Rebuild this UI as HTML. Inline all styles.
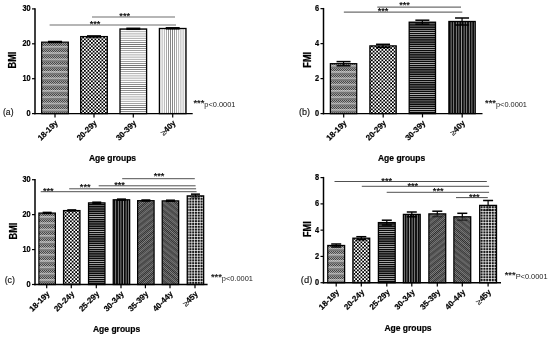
<!DOCTYPE html>
<html><head><meta charset="utf-8"><title>Figure</title>
<style>
html,body{margin:0;padding:0;background:#fff;}
svg{display:block;font-family:"Liberation Sans", Arial, Helvetica, sans-serif;}
</style></head>
<body>
<svg width="550" height="339" viewBox="0 0 550 339">
<rect width="550" height="339" fill="#fff"/>

<defs>
  <pattern id="p1" width="2" height="2" patternUnits="userSpaceOnUse">
    <rect width="2" height="2" fill="#a0a0a0"/>
    <rect x="0" y="0" width="1" height="1" fill="#464646"/>
    <rect x="1" y="1" width="1" height="1" fill="#464646"/>
  </pattern>
  <pattern id="p1b" width="4" height="6.3" patternUnits="userSpaceOnUse">
    <rect x="0" y="2.2" width="4" height="1.1" fill="#e4e4e4"/>
    <rect x="0" y="3.3" width="4" height="2.0" fill="#787878" fill-opacity="0.85"/>
  </pattern>
  <pattern id="p2" width="3.5" height="3.5" patternUnits="userSpaceOnUse">
    <rect width="3.5" height="3.5" fill="#fff"/>
    <rect x="0" y="0" width="1.75" height="1.75" fill="#000"/>
    <rect x="1.75" y="1.75" width="1.75" height="1.75" fill="#000"/>
  </pattern>
  <pattern id="p3l" width="4" height="2.1" patternUnits="userSpaceOnUse">
    <rect width="4" height="2.1" fill="#fff"/>
    <rect x="0" y="0" width="4" height="0.6" fill="#555"/>
  </pattern>
  <pattern id="p4l" width="2.1" height="4" patternUnits="userSpaceOnUse">
    <rect width="2.1" height="4" fill="#fff"/>
    <rect x="0" y="0" width="0.6" height="4" fill="#666"/>
  </pattern>
  <pattern id="p3d" width="4" height="2.14" patternUnits="userSpaceOnUse">
    <rect width="4" height="2.14" fill="#0a0a0a"/>
    <rect x="0" y="0" width="4" height="0.65" fill="#c4c4c4"/>
  </pattern>
  <pattern id="p4d" width="2.6" height="4" patternUnits="userSpaceOnUse">
    <rect width="2.6" height="4" fill="#0a0a0a"/>
    <rect x="0.9" y="0" width="0.75" height="4" fill="#a8a8a8"/>
  </pattern>
  <pattern id="p5" width="4.6" height="4.6" patternUnits="userSpaceOnUse" patternTransform="rotate(-38)">
    <rect width="4.6" height="4.6" fill="#626262"/>
    <rect x="0" y="0" width="4.6" height="2.4" fill="#3c3c3c"/>
  </pattern>
  <pattern id="p5b" width="1.45" height="1.45" patternUnits="userSpaceOnUse" patternTransform="rotate(-45)">
    <rect x="0" y="0" width="1.45" height="0.5" fill="#e0e0e0" fill-opacity="0.42"/>
    <rect x="0" y="0.7" width="1.45" height="0.6" fill="#000" fill-opacity="0.35"/>
  </pattern>
  <pattern id="p6" width="4.6" height="4.6" patternUnits="userSpaceOnUse" patternTransform="rotate(38)">
    <rect width="4.6" height="4.6" fill="#626262"/>
    <rect x="0" y="0" width="4.6" height="2.4" fill="#3c3c3c"/>
  </pattern>
  <pattern id="p6b" width="1.45" height="1.45" patternUnits="userSpaceOnUse" patternTransform="rotate(45)">
    <rect x="0" y="0" width="1.45" height="0.5" fill="#e0e0e0" fill-opacity="0.42"/>
    <rect x="0" y="0.7" width="1.45" height="0.6" fill="#000" fill-opacity="0.35"/>
  </pattern>
  <pattern id="p7" width="2.8" height="2.8" patternUnits="userSpaceOnUse">
    <rect width="2.8" height="2.8" fill="#111"/>
    <rect x="0.9" y="0" width="0.85" height="2.8" fill="#d8d8d8"/>
    <rect x="0" y="0.9" width="2.8" height="0.85" fill="#d8d8d8"/>
    <rect x="0.9" y="0.9" width="0.85" height="0.85" fill="#fff"/>
  </pattern>
</defs>

<rect x="41.70" y="42.20" width="26.60" height="71.40" fill="url(#p1)" stroke="#000" stroke-width="1.3"/>
<rect x="42.30" y="42.80" width="25.40" height="70.20" fill="url(#p1b)"/>
<line x1="48.00" y1="42.00" x2="62.00" y2="42.00" stroke="#000" stroke-width="2.5" />
<rect x="80.70" y="36.60" width="26.60" height="77.00" fill="url(#p2)" stroke="#000" stroke-width="1.3"/>
<line x1="87.00" y1="36.40" x2="101.00" y2="36.40" stroke="#000" stroke-width="2.5" />
<rect x="120.00" y="29.00" width="26.60" height="84.60" fill="url(#p3l)" stroke="#000" stroke-width="1.3"/>
<line x1="126.30" y1="28.80" x2="140.30" y2="28.80" stroke="#000" stroke-width="2.5" />
<rect x="159.40" y="28.50" width="26.60" height="85.10" fill="url(#p4l)" stroke="#000" stroke-width="1.3"/>
<line x1="165.70" y1="28.30" x2="179.70" y2="28.30" stroke="#000" stroke-width="2.5" />
<line x1="35.00" y1="8.20" x2="35.00" y2="114.30" stroke="#000" stroke-width="1.5" />
<line x1="34.30" y1="113.60" x2="192.70" y2="113.60" stroke="#000" stroke-width="1.4" />
<line x1="32.00" y1="113.60" x2="35.00" y2="113.60" stroke="#000" stroke-width="1.2" />
<text x="0" y="0" transform="translate(30.60 116.00) scale(0.9 1)" font-size="8.2" font-weight="bold" text-anchor="end" fill="#000"  stroke="#000" stroke-width="0.2">0</text>
<line x1="32.00" y1="78.70" x2="35.00" y2="78.70" stroke="#000" stroke-width="1.2" />
<text x="0" y="0" transform="translate(30.60 81.00) scale(0.9 1)" font-size="8.2" font-weight="bold" text-anchor="end" fill="#000"  stroke="#000" stroke-width="0.2">10</text>
<line x1="32.00" y1="43.80" x2="35.00" y2="43.80" stroke="#000" stroke-width="1.2" />
<text x="0" y="0" transform="translate(30.60 46.00) scale(0.9 1)" font-size="8.2" font-weight="bold" text-anchor="end" fill="#000"  stroke="#000" stroke-width="0.2">20</text>
<line x1="32.00" y1="8.90" x2="35.00" y2="8.90" stroke="#000" stroke-width="1.2" />
<text x="0" y="0" transform="translate(30.60 11.00) scale(0.9 1)" font-size="8.2" font-weight="bold" text-anchor="end" fill="#000"  stroke="#000" stroke-width="0.2">30</text>
<line x1="55.00" y1="113.60" x2="55.00" y2="117.40" stroke="#000" stroke-width="1.2" />
<text x="0" y="0" transform="translate(58.50 123.50) rotate(-45)" font-size="8" font-weight="bold" text-anchor="end" fill="#000"  stroke="#000" stroke-width="0.2">18-19y</text>
<line x1="94.00" y1="113.60" x2="94.00" y2="117.40" stroke="#000" stroke-width="1.2" />
<text x="0" y="0" transform="translate(97.50 123.50) rotate(-45)" font-size="8" font-weight="bold" text-anchor="end" fill="#000"  stroke="#000" stroke-width="0.2">20-29y</text>
<line x1="133.30" y1="113.60" x2="133.30" y2="117.40" stroke="#000" stroke-width="1.2" />
<text x="0" y="0" transform="translate(136.80 123.50) rotate(-45)" font-size="8" font-weight="bold" text-anchor="end" fill="#000"  stroke="#000" stroke-width="0.2">30-39y</text>
<line x1="172.70" y1="113.60" x2="172.70" y2="117.40" stroke="#000" stroke-width="1.2" />
<text x="0" y="0" transform="translate(176.20 123.50) rotate(-45)" font-size="8" font-weight="bold" text-anchor="end" fill="#000"  stroke="#000" stroke-width="0.2"><tspan font-weight="normal" fill="#444">≥</tspan>40y</text>
<text x="0" y="0" transform="translate(16.20 60.00) rotate(-90) scale(0.9 1)" font-size="10.2" font-weight="bold" text-anchor="middle" fill="#000"  stroke="#000" stroke-width="0.2">BMI</text>
<text x="112.50" y="160.80" font-size="8.5" font-weight="bold" text-anchor="middle" fill="#000"  stroke="#000" stroke-width="0.2">Age groups</text>
<text x="3.00" y="115.20" font-size="8.6" font-weight="normal" text-anchor="start" fill="#111" stroke="#111" stroke-width="0.15">(a)</text>
<text x="193.40" y="107.00" font-size="7.4" font-weight="normal" text-anchor="start" fill="#222" ><tspan font-weight="bold" font-size="9.4" dy="-1">***</tspan><tspan dy="1">p&lt;0.0001</tspan></text>
<line x1="49.60" y1="25.00" x2="176.00" y2="25.00" stroke="#6e6e6e" stroke-width="1.2" />
<text x="95.00" y="26.60" font-size="9.2" font-weight="bold" text-anchor="middle" fill="#111" stroke="none">***</text>
<line x1="92.00" y1="17.00" x2="175.00" y2="17.00" stroke="#6e6e6e" stroke-width="1.2" />
<text x="124.70" y="18.60" font-size="9.2" font-weight="bold" text-anchor="middle" fill="#111" stroke="none">***</text>
<rect x="330.40" y="63.70" width="26.30" height="49.90" fill="url(#p1)" stroke="#000" stroke-width="1.3"/>
<rect x="331.00" y="64.30" width="25.10" height="48.70" fill="url(#p1b)"/>
<line x1="343.55" y1="61.60" x2="343.55" y2="63.70" stroke="#000" stroke-width="1.2" />
<line x1="343.55" y1="63.70" x2="343.55" y2="65.80" stroke="#000" stroke-width="1.2" />
<line x1="336.55" y1="61.60" x2="350.55" y2="61.60" stroke="#000" stroke-width="1.5" />
<line x1="336.55" y1="65.80" x2="350.55" y2="65.80" stroke="#000" stroke-width="1.5" />
<rect x="369.90" y="45.90" width="26.30" height="67.70" fill="url(#p2)" stroke="#000" stroke-width="1.3"/>
<line x1="383.05" y1="44.30" x2="383.05" y2="45.90" stroke="#000" stroke-width="1.2" />
<line x1="383.05" y1="45.90" x2="383.05" y2="47.50" stroke="#000" stroke-width="1.2" />
<line x1="376.05" y1="44.30" x2="390.05" y2="44.30" stroke="#000" stroke-width="1.5" />
<line x1="376.05" y1="47.50" x2="390.05" y2="47.50" stroke="#000" stroke-width="1.5" />
<rect x="409.20" y="22.20" width="26.30" height="91.40" fill="url(#p3d)" stroke="#000" stroke-width="1.3"/>
<line x1="422.35" y1="20.20" x2="422.35" y2="22.20" stroke="#000" stroke-width="1.2" />
<line x1="422.35" y1="22.20" x2="422.35" y2="24.20" stroke="#000" stroke-width="1.2" />
<line x1="415.35" y1="20.20" x2="429.35" y2="20.20" stroke="#000" stroke-width="1.5" />
<line x1="415.35" y1="24.20" x2="429.35" y2="24.20" stroke="#000" stroke-width="1.5" />
<rect x="448.90" y="21.50" width="26.30" height="92.10" fill="url(#p4d)" stroke="#000" stroke-width="1.3"/>
<line x1="462.05" y1="18.00" x2="462.05" y2="21.50" stroke="#000" stroke-width="1.2" />
<line x1="462.05" y1="21.50" x2="462.05" y2="25.00" stroke="#000" stroke-width="1.2" />
<line x1="455.05" y1="18.00" x2="469.05" y2="18.00" stroke="#000" stroke-width="1.5" />
<line x1="455.05" y1="25.00" x2="469.05" y2="25.00" stroke="#000" stroke-width="1.5" />
<line x1="323.50" y1="7.94" x2="323.50" y2="114.30" stroke="#000" stroke-width="1.5" />
<line x1="322.80" y1="113.60" x2="482.50" y2="113.60" stroke="#000" stroke-width="1.4" />
<line x1="320.50" y1="113.60" x2="323.50" y2="113.60" stroke="#000" stroke-width="1.2" />
<text x="0" y="0" transform="translate(319.10 116.00) scale(0.9 1)" font-size="8.2" font-weight="bold" text-anchor="end" fill="#000"  stroke="#000" stroke-width="0.2">0</text>
<line x1="320.50" y1="78.61" x2="323.50" y2="78.61" stroke="#000" stroke-width="1.2" />
<text x="0" y="0" transform="translate(319.10 81.00) scale(0.9 1)" font-size="8.2" font-weight="bold" text-anchor="end" fill="#000"  stroke="#000" stroke-width="0.2">2</text>
<line x1="320.50" y1="43.63" x2="323.50" y2="43.63" stroke="#000" stroke-width="1.2" />
<text x="0" y="0" transform="translate(319.10 46.00) scale(0.9 1)" font-size="8.2" font-weight="bold" text-anchor="end" fill="#000"  stroke="#000" stroke-width="0.2">4</text>
<line x1="320.50" y1="8.64" x2="323.50" y2="8.64" stroke="#000" stroke-width="1.2" />
<text x="0" y="0" transform="translate(319.10 11.00) scale(0.9 1)" font-size="8.2" font-weight="bold" text-anchor="end" fill="#000"  stroke="#000" stroke-width="0.2">6</text>
<line x1="343.70" y1="113.60" x2="343.70" y2="117.40" stroke="#000" stroke-width="1.2" />
<text x="0" y="0" transform="translate(347.20 123.50) rotate(-45)" font-size="8" font-weight="bold" text-anchor="end" fill="#000"  stroke="#000" stroke-width="0.2">18-19y</text>
<line x1="383.20" y1="113.60" x2="383.20" y2="117.40" stroke="#000" stroke-width="1.2" />
<text x="0" y="0" transform="translate(386.70 123.50) rotate(-45)" font-size="8" font-weight="bold" text-anchor="end" fill="#000"  stroke="#000" stroke-width="0.2">20-29y</text>
<line x1="422.50" y1="113.60" x2="422.50" y2="117.40" stroke="#000" stroke-width="1.2" />
<text x="0" y="0" transform="translate(426.00 123.50) rotate(-45)" font-size="8" font-weight="bold" text-anchor="end" fill="#000"  stroke="#000" stroke-width="0.2">30-39y</text>
<line x1="462.20" y1="113.60" x2="462.20" y2="117.40" stroke="#000" stroke-width="1.2" />
<text x="0" y="0" transform="translate(465.70 123.50) rotate(-45)" font-size="8" font-weight="bold" text-anchor="end" fill="#000"  stroke="#000" stroke-width="0.2"><tspan font-weight="normal" fill="#444">≥</tspan>40y</text>
<text x="0" y="0" transform="translate(310.50 59.80) rotate(-90) scale(0.9 1)" font-size="10.2" font-weight="bold" text-anchor="middle" fill="#000"  stroke="#000" stroke-width="0.2">FMI</text>
<text x="401.60" y="160.80" font-size="8.5" font-weight="bold" text-anchor="middle" fill="#000"  stroke="#000" stroke-width="0.2">Age groups</text>
<text x="299.00" y="115.20" font-size="9.0" font-weight="normal" text-anchor="start" fill="#111" stroke="#111" stroke-width="0.15">(b)</text>
<text x="485.00" y="107.00" font-size="7.4" font-weight="normal" text-anchor="start" fill="#222" ><tspan font-weight="bold" font-size="9.4" dy="-1">***</tspan><tspan dy="1">p&lt;0.0001</tspan></text>
<line x1="343.85" y1="12.10" x2="462.30" y2="12.10" stroke="#6e6e6e" stroke-width="1.2" />
<text x="383.00" y="14.30" font-size="9.2" font-weight="bold" text-anchor="middle" fill="#111" stroke="none">***</text>
<line x1="377.30" y1="7.20" x2="461.00" y2="7.20" stroke="#6e6e6e" stroke-width="1.2" />
<text x="404.50" y="8.10" font-size="9.2" font-weight="bold" text-anchor="middle" fill="#111" stroke="none">***</text>
<rect x="38.95" y="213.10" width="16.40" height="71.40" fill="url(#p1)" stroke="#000" stroke-width="1.3"/>
<rect x="39.55" y="213.70" width="15.20" height="70.20" fill="url(#p1b)"/>
<line x1="42.65" y1="212.90" x2="51.65" y2="212.90" stroke="#000" stroke-width="2.5" />
<rect x="63.55" y="210.60" width="16.40" height="73.90" fill="url(#p2)" stroke="#000" stroke-width="1.3"/>
<line x1="67.25" y1="210.40" x2="76.25" y2="210.40" stroke="#000" stroke-width="2.5" />
<rect x="88.55" y="202.90" width="16.40" height="81.60" fill="url(#p3d)" stroke="#000" stroke-width="1.3"/>
<line x1="92.25" y1="202.70" x2="101.25" y2="202.70" stroke="#000" stroke-width="2.5" />
<rect x="113.25" y="199.80" width="16.40" height="84.70" fill="url(#p4d)" stroke="#000" stroke-width="1.3"/>
<line x1="116.95" y1="199.60" x2="125.95" y2="199.60" stroke="#000" stroke-width="2.5" />
<rect x="137.65" y="200.70" width="16.40" height="83.80" fill="url(#p5)" stroke="#000" stroke-width="1.3"/>
<rect x="138.25" y="201.30" width="15.20" height="82.60" fill="url(#p5b)"/>
<line x1="141.35" y1="200.50" x2="150.35" y2="200.50" stroke="#000" stroke-width="2.5" />
<rect x="162.25" y="200.90" width="16.40" height="83.60" fill="url(#p6)" stroke="#000" stroke-width="1.3"/>
<rect x="162.85" y="201.50" width="15.20" height="82.40" fill="url(#p6b)"/>
<line x1="165.95" y1="200.70" x2="174.95" y2="200.70" stroke="#000" stroke-width="2.5" />
<rect x="187.25" y="195.90" width="16.40" height="88.60" fill="url(#p7)" stroke="#000" stroke-width="1.3"/>
<line x1="195.45" y1="194.15" x2="195.45" y2="195.90" stroke="#000" stroke-width="1.2" />
<line x1="195.45" y1="195.90" x2="195.45" y2="197.65" stroke="#000" stroke-width="1.2"  stroke-opacity="0.5"/>
<line x1="190.95" y1="194.15" x2="199.95" y2="194.15" stroke="#000" stroke-width="1.5" />
<line x1="190.95" y1="197.65" x2="199.95" y2="197.65" stroke="#000" stroke-width="1.5"  stroke-opacity="0.5"/>
<line x1="35.00" y1="179.00" x2="35.00" y2="285.20" stroke="#000" stroke-width="1.5" />
<line x1="34.30" y1="284.50" x2="207.60" y2="284.50" stroke="#000" stroke-width="1.4" />
<line x1="32.00" y1="284.50" x2="35.00" y2="284.50" stroke="#000" stroke-width="1.2" />
<text x="0" y="0" transform="translate(30.60 287.00) scale(0.9 1)" font-size="8.2" font-weight="bold" text-anchor="end" fill="#000"  stroke="#000" stroke-width="0.2">0</text>
<line x1="32.00" y1="249.57" x2="35.00" y2="249.57" stroke="#000" stroke-width="1.2" />
<text x="0" y="0" transform="translate(30.60 252.00) scale(0.9 1)" font-size="8.2" font-weight="bold" text-anchor="end" fill="#000"  stroke="#000" stroke-width="0.2">10</text>
<line x1="32.00" y1="214.63" x2="35.00" y2="214.63" stroke="#000" stroke-width="1.2" />
<text x="0" y="0" transform="translate(30.60 217.00) scale(0.9 1)" font-size="8.2" font-weight="bold" text-anchor="end" fill="#000"  stroke="#000" stroke-width="0.2">20</text>
<line x1="32.00" y1="179.70" x2="35.00" y2="179.70" stroke="#000" stroke-width="1.2" />
<text x="0" y="0" transform="translate(30.60 182.00) scale(0.9 1)" font-size="8.2" font-weight="bold" text-anchor="end" fill="#000"  stroke="#000" stroke-width="0.2">30</text>
<line x1="46.70" y1="284.50" x2="46.70" y2="288.30" stroke="#000" stroke-width="1.2" />
<text x="0" y="0" transform="translate(50.20 294.40) rotate(-45)" font-size="8" font-weight="bold" text-anchor="end" fill="#000"  stroke="#000" stroke-width="0.2">18-19y</text>
<line x1="71.30" y1="284.50" x2="71.30" y2="288.30" stroke="#000" stroke-width="1.2" />
<text x="0" y="0" transform="translate(74.80 294.40) rotate(-45)" font-size="8" font-weight="bold" text-anchor="end" fill="#000"  stroke="#000" stroke-width="0.2">20-24y</text>
<line x1="96.30" y1="284.50" x2="96.30" y2="288.30" stroke="#000" stroke-width="1.2" />
<text x="0" y="0" transform="translate(99.80 294.40) rotate(-45)" font-size="8" font-weight="bold" text-anchor="end" fill="#000"  stroke="#000" stroke-width="0.2">25-29y</text>
<line x1="121.00" y1="284.50" x2="121.00" y2="288.30" stroke="#000" stroke-width="1.2" />
<text x="0" y="0" transform="translate(124.50 294.40) rotate(-45)" font-size="8" font-weight="bold" text-anchor="end" fill="#000"  stroke="#000" stroke-width="0.2">30-34y</text>
<line x1="145.40" y1="284.50" x2="145.40" y2="288.30" stroke="#000" stroke-width="1.2" />
<text x="0" y="0" transform="translate(148.90 294.40) rotate(-45)" font-size="8" font-weight="bold" text-anchor="end" fill="#000"  stroke="#000" stroke-width="0.2">35-39y</text>
<line x1="170.00" y1="284.50" x2="170.00" y2="288.30" stroke="#000" stroke-width="1.2" />
<text x="0" y="0" transform="translate(173.50 294.40) rotate(-45)" font-size="8" font-weight="bold" text-anchor="end" fill="#000"  stroke="#000" stroke-width="0.2">40-44y</text>
<line x1="195.00" y1="284.50" x2="195.00" y2="288.30" stroke="#000" stroke-width="1.2" />
<text x="0" y="0" transform="translate(198.50 294.40) rotate(-45)" font-size="8" font-weight="bold" text-anchor="end" fill="#000"  stroke="#000" stroke-width="0.2"><tspan font-weight="normal" fill="#444">≥</tspan>45y</text>
<text x="0" y="0" transform="translate(16.90 231.00) rotate(-90) scale(0.9 1)" font-size="10.2" font-weight="bold" text-anchor="middle" fill="#000"  stroke="#000" stroke-width="0.2">BMI</text>
<text x="116.60" y="332.20" font-size="8.5" font-weight="bold" text-anchor="middle" fill="#000"  stroke="#000" stroke-width="0.2">Age groups</text>
<text x="4.70" y="283.00" font-size="8.8" font-weight="normal" text-anchor="start" fill="#111" stroke="#111" stroke-width="0.15">(c)</text>
<text x="210.90" y="281.00" font-size="7.4" font-weight="normal" text-anchor="start" fill="#222" ><tspan font-weight="bold" font-size="9.4" dy="-1">***</tspan><tspan dy="1">p&lt;0.0001</tspan></text>
<line x1="40.70" y1="191.70" x2="196.60" y2="191.70" stroke="#505050" stroke-width="1.0" />
<text x="48.30" y="194.10" font-size="9.2" font-weight="bold" text-anchor="middle" fill="#111" stroke="none">***</text>
<line x1="69.20" y1="188.80" x2="196.10" y2="188.80" stroke="#505050" stroke-width="1.0" />
<text x="85.20" y="189.80" font-size="9.2" font-weight="bold" text-anchor="middle" fill="#111" stroke="none">***</text>
<line x1="98.70" y1="185.80" x2="195.60" y2="185.80" stroke="#505050" stroke-width="1.0" />
<text x="119.60" y="188.00" font-size="9.2" font-weight="bold" text-anchor="middle" fill="#111" stroke="none">***</text>
<line x1="122.20" y1="178.70" x2="194.80" y2="178.70" stroke="#505050" stroke-width="1.0" />
<text x="159.00" y="179.20" font-size="9.2" font-weight="bold" text-anchor="middle" fill="#111" stroke="none">***</text>
<rect x="327.80" y="245.50" width="16.80" height="37.20" fill="url(#p1)" stroke="#000" stroke-width="1.3"/>
<rect x="328.40" y="246.10" width="15.60" height="36.00" fill="url(#p1b)"/>
<line x1="336.20" y1="244.00" x2="336.20" y2="245.50" stroke="#000" stroke-width="1.2" />
<line x1="336.20" y1="245.50" x2="336.20" y2="247.00" stroke="#000" stroke-width="1.2" />
<line x1="331.20" y1="244.00" x2="341.20" y2="244.00" stroke="#000" stroke-width="1.5" />
<line x1="331.20" y1="247.00" x2="341.20" y2="247.00" stroke="#000" stroke-width="1.5" />
<rect x="352.90" y="238.20" width="16.80" height="44.50" fill="url(#p2)" stroke="#000" stroke-width="1.3"/>
<line x1="361.30" y1="236.70" x2="361.30" y2="238.20" stroke="#000" stroke-width="1.2" />
<line x1="361.30" y1="238.20" x2="361.30" y2="239.70" stroke="#000" stroke-width="1.2" />
<line x1="356.30" y1="236.70" x2="366.30" y2="236.70" stroke="#000" stroke-width="1.5" />
<line x1="356.30" y1="239.70" x2="366.30" y2="239.70" stroke="#000" stroke-width="1.5" />
<rect x="378.40" y="222.60" width="16.80" height="60.10" fill="url(#p3d)" stroke="#000" stroke-width="1.3"/>
<line x1="386.80" y1="220.20" x2="386.80" y2="222.60" stroke="#000" stroke-width="1.2" />
<line x1="386.80" y1="222.60" x2="386.80" y2="225.00" stroke="#000" stroke-width="1.2" />
<line x1="381.80" y1="220.20" x2="391.80" y2="220.20" stroke="#000" stroke-width="1.5" />
<line x1="381.80" y1="225.00" x2="391.80" y2="225.00" stroke="#000" stroke-width="1.5" />
<rect x="403.40" y="214.40" width="16.80" height="68.30" fill="url(#p4d)" stroke="#000" stroke-width="1.3"/>
<line x1="411.80" y1="212.00" x2="411.80" y2="214.40" stroke="#000" stroke-width="1.2" />
<line x1="411.80" y1="214.40" x2="411.80" y2="216.80" stroke="#000" stroke-width="1.2" />
<line x1="406.80" y1="212.00" x2="416.80" y2="212.00" stroke="#000" stroke-width="1.5" />
<line x1="406.80" y1="216.80" x2="416.80" y2="216.80" stroke="#000" stroke-width="1.5" />
<rect x="428.90" y="213.90" width="16.80" height="68.80" fill="url(#p5)" stroke="#000" stroke-width="1.3"/>
<rect x="429.50" y="214.50" width="15.60" height="67.60" fill="url(#p5b)"/>
<line x1="437.30" y1="211.20" x2="437.30" y2="213.90" stroke="#000" stroke-width="1.2" />
<line x1="437.30" y1="213.90" x2="437.30" y2="216.60" stroke="#000" stroke-width="1.2"  stroke-opacity="0.5"/>
<line x1="432.30" y1="211.20" x2="442.30" y2="211.20" stroke="#000" stroke-width="1.5" />
<line x1="432.30" y1="216.60" x2="442.30" y2="216.60" stroke="#000" stroke-width="1.5"  stroke-opacity="0.5"/>
<rect x="453.90" y="216.80" width="16.80" height="65.90" fill="url(#p6)" stroke="#000" stroke-width="1.3"/>
<rect x="454.50" y="217.40" width="15.60" height="64.70" fill="url(#p6b)"/>
<line x1="462.30" y1="213.30" x2="462.30" y2="216.80" stroke="#000" stroke-width="1.2" />
<line x1="462.30" y1="216.80" x2="462.30" y2="220.30" stroke="#000" stroke-width="1.2"  stroke-opacity="0.5"/>
<line x1="457.30" y1="213.30" x2="467.30" y2="213.30" stroke="#000" stroke-width="1.5" />
<line x1="457.30" y1="220.30" x2="467.30" y2="220.30" stroke="#000" stroke-width="1.5"  stroke-opacity="0.5"/>
<rect x="479.70" y="205.40" width="16.80" height="77.30" fill="url(#p7)" stroke="#000" stroke-width="1.3"/>
<line x1="488.10" y1="200.50" x2="488.10" y2="205.40" stroke="#000" stroke-width="1.2" />
<line x1="488.10" y1="205.40" x2="488.10" y2="210.30" stroke="#000" stroke-width="1.2"  stroke-opacity="0.5"/>
<line x1="483.10" y1="200.50" x2="493.10" y2="200.50" stroke="#000" stroke-width="1.5" />
<line x1="483.10" y1="210.30" x2="493.10" y2="210.30" stroke="#000" stroke-width="1.5"  stroke-opacity="0.5"/>
<line x1="323.50" y1="176.90" x2="323.50" y2="283.40" stroke="#000" stroke-width="1.5" />
<line x1="322.80" y1="282.70" x2="501.00" y2="282.70" stroke="#000" stroke-width="1.4" />
<line x1="320.50" y1="282.70" x2="323.50" y2="282.70" stroke="#000" stroke-width="1.2" />
<text x="0" y="0" transform="translate(319.10 285.00) scale(0.9 1)" font-size="8.2" font-weight="bold" text-anchor="end" fill="#000"  stroke="#000" stroke-width="0.2">0</text>
<line x1="320.50" y1="256.43" x2="323.50" y2="256.43" stroke="#000" stroke-width="1.2" />
<text x="0" y="0" transform="translate(319.10 259.00) scale(0.9 1)" font-size="8.2" font-weight="bold" text-anchor="end" fill="#000"  stroke="#000" stroke-width="0.2">2</text>
<line x1="320.50" y1="230.15" x2="323.50" y2="230.15" stroke="#000" stroke-width="1.2" />
<text x="0" y="0" transform="translate(319.10 233.00) scale(0.9 1)" font-size="8.2" font-weight="bold" text-anchor="end" fill="#000"  stroke="#000" stroke-width="0.2">4</text>
<line x1="320.50" y1="203.88" x2="323.50" y2="203.88" stroke="#000" stroke-width="1.2" />
<text x="0" y="0" transform="translate(319.10 206.00) scale(0.9 1)" font-size="8.2" font-weight="bold" text-anchor="end" fill="#000"  stroke="#000" stroke-width="0.2">6</text>
<line x1="320.50" y1="177.60" x2="323.50" y2="177.60" stroke="#000" stroke-width="1.2" />
<text x="0" y="0" transform="translate(319.10 180.00) scale(0.9 1)" font-size="8.2" font-weight="bold" text-anchor="end" fill="#000"  stroke="#000" stroke-width="0.2">8</text>
<line x1="336.20" y1="282.70" x2="336.20" y2="286.50" stroke="#000" stroke-width="1.2" />
<text x="0" y="0" transform="translate(339.70 292.60) rotate(-45)" font-size="8" font-weight="bold" text-anchor="end" fill="#000"  stroke="#000" stroke-width="0.2">18-19y</text>
<line x1="361.30" y1="282.70" x2="361.30" y2="286.50" stroke="#000" stroke-width="1.2" />
<text x="0" y="0" transform="translate(364.80 292.60) rotate(-45)" font-size="8" font-weight="bold" text-anchor="end" fill="#000"  stroke="#000" stroke-width="0.2">20-24y</text>
<line x1="386.80" y1="282.70" x2="386.80" y2="286.50" stroke="#000" stroke-width="1.2" />
<text x="0" y="0" transform="translate(390.30 292.60) rotate(-45)" font-size="8" font-weight="bold" text-anchor="end" fill="#000"  stroke="#000" stroke-width="0.2">25-29y</text>
<line x1="411.80" y1="282.70" x2="411.80" y2="286.50" stroke="#000" stroke-width="1.2" />
<text x="0" y="0" transform="translate(415.30 292.60) rotate(-45)" font-size="8" font-weight="bold" text-anchor="end" fill="#000"  stroke="#000" stroke-width="0.2">30-34y</text>
<line x1="437.30" y1="282.70" x2="437.30" y2="286.50" stroke="#000" stroke-width="1.2" />
<text x="0" y="0" transform="translate(440.80 292.60) rotate(-45)" font-size="8" font-weight="bold" text-anchor="end" fill="#000"  stroke="#000" stroke-width="0.2">35-39y</text>
<line x1="462.30" y1="282.70" x2="462.30" y2="286.50" stroke="#000" stroke-width="1.2" />
<text x="0" y="0" transform="translate(465.80 292.60) rotate(-45)" font-size="8" font-weight="bold" text-anchor="end" fill="#000"  stroke="#000" stroke-width="0.2">40-44y</text>
<line x1="488.10" y1="282.70" x2="488.10" y2="286.50" stroke="#000" stroke-width="1.2" />
<text x="0" y="0" transform="translate(491.60 292.60) rotate(-45)" font-size="8" font-weight="bold" text-anchor="end" fill="#000"  stroke="#000" stroke-width="0.2"><tspan font-weight="normal" fill="#444">≥</tspan>45y</text>
<text x="0" y="0" transform="translate(310.80 229.20) rotate(-90) scale(0.9 1)" font-size="10.2" font-weight="bold" text-anchor="middle" fill="#000"  stroke="#000" stroke-width="0.2">FMI</text>
<text x="408.00" y="330.70" font-size="8.5" font-weight="bold" text-anchor="middle" fill="#000"  stroke="#000" stroke-width="0.2">Age groups</text>
<text x="300.80" y="282.60" font-size="9.4" font-weight="normal" text-anchor="start" fill="#111" stroke="#111" stroke-width="0.15">(d)</text>
<text x="504.70" y="279.00" font-size="7.4" font-weight="normal" text-anchor="start" fill="#222" ><tspan font-weight="bold" font-size="9.4" dy="-1">***</tspan><tspan dy="1">P&lt;0.0001</tspan></text>
<line x1="334.50" y1="181.50" x2="486.80" y2="181.50" stroke="#505050" stroke-width="1.0" />
<text x="386.70" y="183.60" font-size="9.2" font-weight="bold" text-anchor="middle" fill="#111" stroke="none">***</text>
<line x1="361.80" y1="186.30" x2="489.10" y2="186.30" stroke="#505050" stroke-width="1.0" />
<text x="412.80" y="188.50" font-size="9.2" font-weight="bold" text-anchor="middle" fill="#111" stroke="none">***</text>
<line x1="386.70" y1="192.30" x2="489.10" y2="192.30" stroke="#505050" stroke-width="1.0" />
<text x="438.20" y="193.90" font-size="9.2" font-weight="bold" text-anchor="middle" fill="#111" stroke="none">***</text>
<line x1="456.00" y1="197.60" x2="487.80" y2="197.60" stroke="#505050" stroke-width="1.0" />
<text x="474.30" y="200.30" font-size="9.2" font-weight="bold" text-anchor="middle" fill="#111" stroke="none">***</text>
</svg>
</body></html>
